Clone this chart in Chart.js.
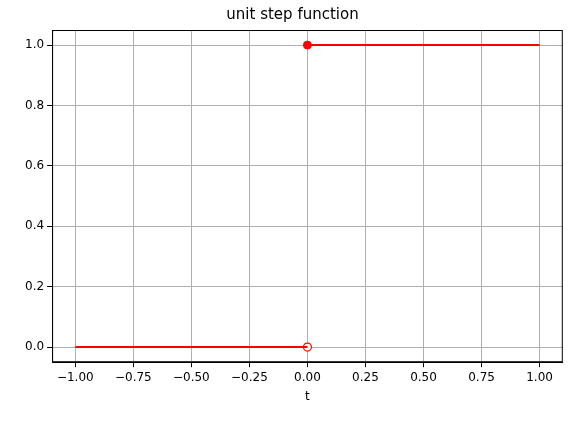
<!DOCTYPE html>
<html><head><script src="https://cdn.jsdelivr.net/npm/chart.js@4"></script>
<style>body{margin:0;background:#fff}#w{width:568px;height:429px}</style></head>
<body><div id="w"><canvas id="c"></canvas></div>
<script>
const tNeg=[-1.0,0.0], uNeg=[0,0];
const tPos=[0.0,1.0], uPos=[1,1];
const openPt={t:0.0,u:0}, closedPt={t:0.0,u:1};
const xTicks=[-1.0,-0.75,-0.5,-0.25,0.0,0.25,0.5,0.75,1.0];
const yTicks=[0.0,0.2,0.4,0.6,0.8,1.0];
const red='#ff0000';
const pts=(xs,ys)=>xs.map((x,i)=>({x:x,y:ys[i]}));
const box={id:'box',afterDraw(c){const a=c.chartArea,x=c.ctx;x.save();x.strokeStyle='#000';x.lineWidth=1;x.strokeRect(a.left+0.5,a.top+0.5,a.right-a.left-1,a.bottom-a.top-1);x.restore();}};
new Chart(document.getElementById('c'),{
type:'scatter',plugins:[box],
data:{datasets:[
{data:pts(tNeg,uNeg),showLine:true,borderColor:red,borderWidth:2,pointRadius:0},
{data:pts(tPos,uPos),showLine:true,borderColor:red,borderWidth:2,pointRadius:0},
{data:[{x:openPt.t,y:openPt.u}],pointRadius:4,pointBackgroundColor:'#fff',pointBorderColor:red,pointBorderWidth:1.2},
{data:[{x:closedPt.t,y:closedPt.u}],pointRadius:4,pointBackgroundColor:red,pointBorderColor:red}
]},
options:{responsive:true,maintainAspectRatio:false,animation:false,
layout:{padding:{left:22,right:5,top:0,bottom:21}},
plugins:{legend:{display:false},tooltip:{enabled:false},
title:{display:true,text:'unit step function',color:'#000',font:{family:'DejaVu Sans',size:15,weight:'normal'},padding:{top:6,bottom:6}}},
scales:{
x:{type:'linear',min:-1.1,max:1.1,
afterBuildTicks:a=>{a.ticks=xTicks.map(v=>({value:v}));},
ticks:{color:'#000',font:{family:'DejaVu Sans',size:12},callback:v=>v.toFixed(2).replace('-','\u2212'),maxRotation:0},
grid:{color:'#b0b0b0',drawTicks:true,tickLength:5,tickColor:'#000'},
border:{color:'#000',width:1},
title:{display:true,text:'t',color:'#000',font:{family:'DejaVu Sans',size:12},padding:{top:2}}},
y:{type:'linear',min:-0.05,max:1.05,
afterBuildTicks:a=>{a.ticks=yTicks.map(v=>({value:v}));},
ticks:{color:'#000',font:{family:'DejaVu Sans',size:12},callback:v=>v.toFixed(1)},
grid:{color:'#b0b0b0',drawTicks:true,tickLength:5,tickColor:'#000'},
border:{color:'#000',width:1}}
}}});
</script></body></html>
